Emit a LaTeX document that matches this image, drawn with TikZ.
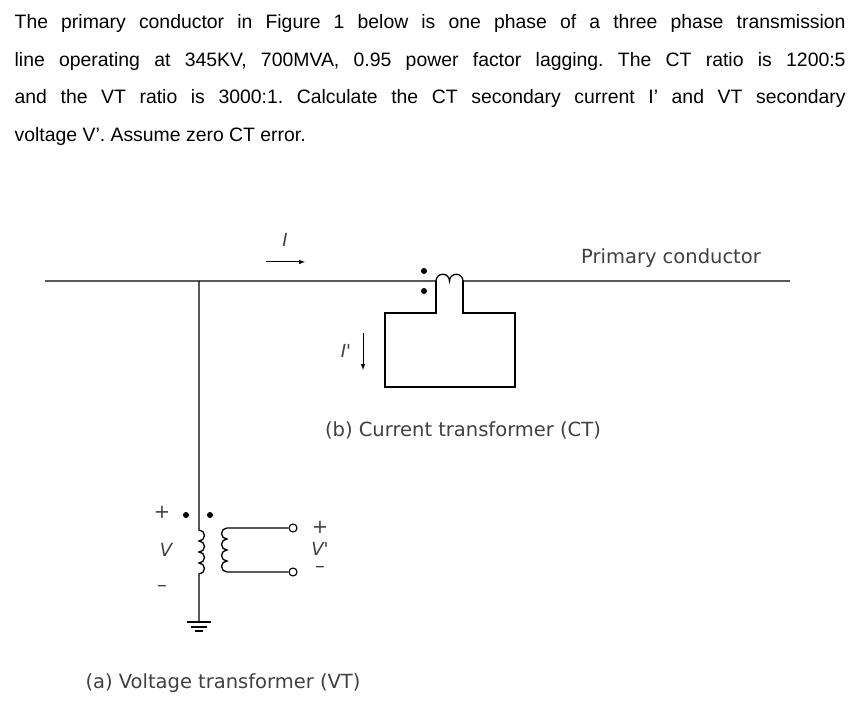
\documentclass[tikz,border=0pt]{standalone}
\usepackage{fontspec}
\setmainfont{Liberation Sans}
\newfontfamily\lblfont{DejaVu Sans}
\begin{document}
\begin{tikzpicture}[x=1pt,y=-1pt,line width=1.3pt,
 lbl/.style={font=\lblfont\fontsize{19.5}{22}\selectfont,text=black!75},
 ilbl/.style={font=\lblfont\itshape\fontsize{18}{20}\selectfont,text=black!75},
 dotm/.style={circle,fill,inner sep=0pt,minimum size=6pt},
 term/.style={circle,draw,fill=white,inner sep=0pt,minimum size=8pt,line width=1.1pt}]
\useasboundingbox (0,0) rectangle (859,708);
\node[anchor=north west,text width=831pt,align=justify,inner sep=0pt,font=\frenchspacing\fontsize{19.4}{37.5}\selectfont] (txt) at (14,14)
{The primary conductor in Figure 1 below is one phase of a three phase transmission\linebreak
line operating at 345KV, 700MVA, 0.95 power factor lagging. The CT ratio is 1200:5\linebreak
and the VT ratio is 3000:1. Calculate the CT secondary current I' and VT secondary\linebreak
voltage V'. Assume zero CT error.\par};
% primary conductor
\coordinate (pl) at (45,281); \coordinate (pr) at (790,281);
\coordinate (ca) at (436,281); \coordinate (cb) at (463,281);
\draw (pl) -- (ca) arc[start angle=180,end angle=360,radius=6.75] arc[start angle=180,end angle=360,radius=6.75] -- (pr);
\node[dotm] (d1) at (424,271) {}; \node[dotm] (d2) at (424,291) {};
\draw (ca) -- (436,313) -- (385,313) -- (385,387) -- (515,387) -- (515,313) -- (463,313) -- (cb);
\draw[-latex,line width=1pt] (266,262) -- (305,262);
\node[ilbl] (I) at (285,240) {I};
\draw[-latex,line width=1pt] (363,333) -- (363,370);
\node[ilbl] (Ip) at (346,351) {I'};
\node[lbl] (pc) at (671,258) {Primary conductor};
\node[lbl] (ct) at (463,430) {(b) Current transformer (CT)};
% VT
\coordinate (t) at (199,281);
\draw (t) -- (199,530)
 arc[start angle=-90,end angle=90,radius=5.5] arc[start angle=-90,end angle=90,radius=5.5]
 arc[start angle=-90,end angle=90,radius=5.5] arc[start angle=-90,end angle=90,radius=5.5]
 -- (199,622);
\draw (199,622) ++(-12,0) -- ++(24,0);
\draw (199,627) ++(-8,0) -- ++(16,0);
\draw (199,631) ++(-4,0) -- ++(8,0);
\node[term] (o1) at (293,528) {};
\node[term] (o2) at (293,572) {};
\draw (o1) -- (227,528) arc[start angle=-90,end angle=-270,radius=5.5] arc[start angle=-90,end angle=-270,radius=5.5]
 arc[start angle=-90,end angle=-270,radius=5.5] arc[start angle=-90,end angle=-270,radius=5.5] -- (o2);
\node[dotm] (d3) at (186,515) {}; \node[dotm] (d4) at (210,515) {};
\node[lbl] (vp) at (162,512) {+};
\node[ilbl] (V) at (166,550) {V};
\node[lbl] (vm) at (162,588) {\textendash};
\node[lbl] (vp2) at (320,527) {+};
\node[ilbl] (V2) at (320,549) {V'};
\node[lbl] (vm2) at (320,569) {\textendash};
\node[lbl] (vt) at (223,683) {(a) Voltage transformer (VT)};
\end{tikzpicture}
\end{document}
